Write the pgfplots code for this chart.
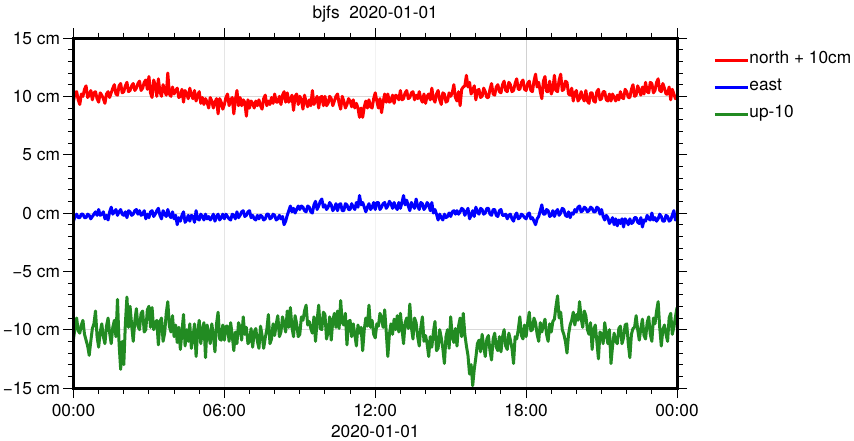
\documentclass[border=0pt]{standalone}
\usepackage{fontspec}
\setmainfont{TeX Gyre Heros}
\usepackage{pgfplots}
\usepackage{pgfplotstable}
\pgfplotsset{compat=1.18}
\definecolor{ugreen}{RGB}{34,139,34}
\pgfplotstableread{
t n e u
0 9.6 -0.7 -10.8
0.0625 10.3 -0.3 -9.8
0.125 10.4 -0.1 -9.0
0.1875 9.7 -0.4 -10.1
0.25 9.3 -0.4 -10.3
0.3125 10.2 -0.1 -9.6
0.375 10.0 -0.1 -9.2
0.4375 10.6 -0.4 -10.4
0.5 10.9 -0.4 -10.9
0.5625 9.9 -0.1 -11.4
0.625 10.1 -0.2 -12.2
0.6875 10.5 -0.5 -11.0
0.75 9.7 -0.3 -9.9
0.8125 10.3 -0.1 -9.5
0.875 10.4 0.1 -8.4
0.9375 9.8 -0.2 -10.6
1 9.5 0.3 -11.5
1.0625 10.3 -0.2 -10.2
1.125 10.1 -0.1 -9.5
1.1875 9.8 0.1 -10.6
1.25 9.4 -0.5 -11.2
1.3125 10.2 -0.2 -9.7
1.375 10.4 -0.6 -9.0
1.4375 9.9 0.1 -10.3
1.5 10.3 0.5 -11.2
1.5625 10.7 -0.1 -9.8
1.625 11.0 0.1 -9.2
1.6875 10.2 0.3 -10.6
1.75 10.1 -0.2 -7.4
1.8125 10.9 0.1 -11.2
1.875 11.1 0.3 -13.4
1.9375 10.3 -0.1 -11.0
2 10.4 -0.2 -13.0
2.0625 10.9 0.1 -9.5
2.125 11.2 -0.4 -7.2
2.1875 10.4 0.2 -9.8
2.25 10.5 0.1 -8.0
2.3125 10.9 -0.2 -9.6
2.375 11.1 -0.1 -11.0
2.4375 10.5 0.2 -9.3
2.5 10.7 0.3 -8.2
2.5625 11.1 -0.1 -9.7
2.625 11.3 0.2 -10.0
2.6875 10.5 -0.2 -8.6
2.75 10.7 -0.1 -8.4
2.8125 11.2 0.2 -10.2
2.875 11.4 -0.5 -10.0
2.9375 10.6 -0.1 -8.3
3 11.7 -0.4 -8.0
3.0625 10.3 0.1 -9.8
3.125 9.9 0.2 -8.1
3.1875 11.4 -0.3 -10.0
3.25 11.0 -0.1 -9.5
3.3125 10.0 0.2 -9.2
3.375 11.5 0.4 -11.3
3.4375 10.4 -0.2 -9.3
3.5 10.0 -0.5 -9.0
3.5625 11.0 0.2 -11.0
3.625 10.5 -0.1 -10.3
3.6875 10.1 -0.3 -8.6
3.75 12.0 0.3 -7.6
3.8125 10.2 -0.2 -9.7
3.875 10.0 -0.4 -10.2
3.9375 10.8 0.1 -8.8
4 10.2 -0.5 -10.6
4.0625 10.5 -0.2 -9.6
4.125 10.7 -1.0 -11.1
4.1875 9.9 -0.4 -9.8
4.25 10.0 -0.7 -11.7
4.3125 10.6 -0.2 -10.2
4.375 9.5 0.1 -8.7
4.4375 10.5 -0.8 -11.4
4.5 10.2 -0.6 -10.0
4.5625 9.8 -0.2 -11.0
4.625 10.7 -0.7 -9.5
4.6875 10.1 -0.2 -11.6
4.75 9.8 -0.3 -10.7
4.8125 10.5 -0.8 -9.5
4.875 9.6 0.2 -12.3
4.9375 10.1 -0.5 -10.2
5 10.4 -0.6 -9.2
5.0625 9.4 -0.1 -11.2
5.125 9.9 -0.3 -10.0
5.1875 9.3 -0.6 -9.4
5.25 9.8 -0.1 -12.4
5.3125 9.5 -0.5 -9.6
5.375 9.0 -0.3 -10.3
5.4375 9.9 -0.6 -11.2
5.5 9.6 -0.4 -9.5
5.5625 9.0 -0.1 -10.5
5.625 9.5 -0.7 -11.9
5.6875 9.8 -0.3 -9.5
5.75 8.5 -0.1 -8.5
5.8125 9.8 -0.6 -10.8
5.875 9.5 -0.4 -10.9
5.9375 8.9 -0.1 -9.6
6 9.3 -0.5 -10.9
6.0625 9.9 -0.1 -9.7
6.125 10.2 -0.3 -9.7
6.1875 9.2 -0.5 -11.0
6.25 9.7 -0.6 -9.4
6.3125 9.9 -0.1 -10.5
6.375 8.5 -0.2 -11.8
6.4375 9.7 -0.5 -10.2
6.5 10.5 0.1 -11.2
6.5625 9.2 -0.4 -9.4
6.625 9.9 -0.2 -9.8
6.6875 9.2 0.1 -10.9
6.75 9.7 0.2 -8.9
6.8125 9.5 -0.3 -10.4
6.875 8.3 -0.2 -9.8
6.9375 9.7 0.1 -11.2
7 9.0 0.2 -11.0
7.0625 9.6 -0.4 -9.9
7.125 9.4 -0.2 -11.5
7.1875 9.0 -0.5 -10.2
7.25 9.6 -0.6 -9.9
7.3125 9.2 -0.2 -11.0
7.375 9.7 -0.5 -11.6
7.4375 9.2 -0.2 -9.7
7.5 8.9 -0.3 -10.5
7.5625 9.8 -0.6 -11.6
7.625 10.1 -0.5 -10.7
7.6875 9.2 -0.1 -10.0
7.75 9.6 -0.1 -8.7
7.8125 9.3 -0.5 -11.2
7.875 9.9 -0.4 -10.8
7.9375 9.4 -0.1 -9.5
8 10.2 -0.2 -10.5
8.0625 9.5 -0.6 -9.5
8.125 9.5 -0.5 -8.8
8.1875 10.0 -0.2 -10.6
8.25 9.3 -0.5 -10.2
8.3125 10.1 -0.3 -8.9
8.375 10.4 -1.0 -9.5
8.4375 9.5 -0.7 -10.2
8.5 10.3 -0.2 -8.4
8.5625 9.5 0.2 -9.8
8.625 9.7 0.6 -8.1
8.6875 10.1 0.1 -9.8
8.75 8.8 0.4 -10.6
8.8125 10.0 0.0 -8.8
8.875 10.2 0.3 -9.5
8.9375 9.3 0.6 -10.6
9 10.0 0.3 -10.4
9.0625 9.7 0.6 -8.9
9.125 8.9 0.5 -9.2
9.1875 10.1 0.2 -8.4
9.25 9.5 0.1 -7.9
9.3125 9.1 0.6 -9.6
9.375 9.7 0.5 -9.3
9.4375 9.2 0.1 -9.9
9.5 10.5 0.0 -10.3
9.5625 9.3 0.7 -8.9
9.625 9.6 1.0 -11.0
9.6875 10.0 0.3 -9.2
9.75 9.0 0.6 -7.9
9.8125 9.9 1.0 -9.9
9.875 10.0 1.2 -10.0
9.9375 9.2 0.5 -8.5
10 10.0 0.7 -8.7
10.0625 9.2 0.3 -10.8
10.125 9.4 0.5 -10.2
10.1875 10.0 0.9 -8.9
10.25 9.8 0.7 -10.9
10.3125 9.2 0.2 -9.2
10.375 9.6 0.4 -8.6
10.4375 10.0 0.8 -9.8
10.5 10.2 0.2 -8.4
10.5625 9.4 0.7 -9.9
10.625 8.9 0.8 -7.5
10.6875 10.0 0.2 -9.4
10.75 9.6 0.2 -9.6
10.8125 9.0 0.8 -8.6
10.875 9.3 0.7 -11.3
10.9375 9.8 0.3 -9.3
11 9.6 0.3 -9.2
11.0625 9.1 0.8 -10.6
11.125 9.7 0.5 -9.5
11.1875 9.0 0.3 -10.4
11.25 9.4 0.9 -11.4
11.3125 9.0 0.5 -9.6
11.375 8.2 1.5 -10.3
11.4375 9.0 0.7 -9.8
11.5 8.2 0.9 -11.8
11.5625 9.1 0.5 -10.0
11.625 9.6 0.1 -9.0
11.6875 9.0 0.5 -9.7
11.75 9.7 0.8 -7.9
11.8125 9.1 0.3 -9.8
11.875 9.0 0.5 -9.2
11.9375 9.8 0.9 -10.4
12 10.3 0.3 -10.7
12.0625 9.6 0.9 -9.5
12.125 9.0 0.9 -9.7
12.1875 9.8 0.3 -8.6
12.25 8.6 0.5 -9.0
12.3125 9.5 0.8 -9.8
12.375 10.2 0.9 -8.3
12.4375 9.5 0.4 -10.2
12.5 10.2 0.6 -12.3
12.5625 9.5 1.0 -10.4
12.625 9.6 0.8 -9.5
12.6875 10.1 0.4 -10.4
12.75 9.4 0.9 -9.1
12.8125 10.1 0.5 -10.0
12.875 10.0 0.3 -8.8
12.9375 9.7 0.9 -10.2
13 10.5 0.4 -8.6
13.0625 9.7 0.9 -9.9
13.125 9.8 1.5 -11.2
13.1875 10.3 0.7 -9.4
13.25 10.5 1.1 -9.0
13.3125 9.8 0.6 -9.9
13.375 9.9 0.2 -7.8
13.4375 10.3 0.9 -9.8
13.5 10.4 0.6 -10.8
13.5625 9.7 0.4 -9.0
13.625 10.1 1.2 -9.4
13.6875 9.8 0.6 -10.6
13.75 10.4 0.3 -11.4
13.8125 9.8 0.9 -9.8
13.875 9.5 0.8 -8.9
13.9375 10.2 0.3 -11.0
14 9.4 0.5 -10.5
14.0625 10.0 0.9 -11.2
14.125 10.2 0.7 -12.3
14.1875 9.7 0.2 -10.6
14.25 10.7 0.9 -11.5
14.3125 9.8 0.0 -10.2
14.375 9.5 0.3 -9.3
14.4375 10.2 -0.1 -11.8
14.5 10.5 -0.6 -11.6
14.5625 9.7 -0.1 -10.0
14.625 9.3 -0.4 -10.7
14.6875 10.3 -0.6 -11.6
14.75 10.2 -0.1 -12.9
14.8125 9.5 -0.4 -10.6
14.875 9.6 -0.3 -10.0
14.9375 10.3 0.0 -11.6
15 10.0 -0.3 -8.9
15.0625 10.3 0.1 -10.6
15.125 11.0 0.2 -11.1
15.1875 9.9 -0.1 -9.9
15.25 9.6 0.2 -11.4
15.3125 10.4 -0.1 -9.7
15.375 9.2 0.1 -9.0
15.4375 10.6 0.4 -10.6
15.5 10.8 0.3 -8.6
15.5625 10.9 -0.2 -10.4
15.625 11.8 0.1 -11.4
15.6875 10.8 0.4 -12.2
15.75 11.2 -0.5 -13.8
15.8125 10.2 -0.2 -13.0
15.875 10.5 0.2 -14.8
15.9375 10.9 -0.3 -13.4
16 9.7 0.5 -12.4
16.0625 10.5 0.1 -11.2
16.125 10.6 -0.1 -10.9
16.1875 9.9 0.4 -11.9
16.25 10.0 0.3 -10.4
16.3125 10.7 -0.1 -11.4
16.375 10.4 0.0 -12.3
16.4375 9.9 0.4 -10.8
16.5 9.9 0.4 -10.5
16.5625 10.6 -0.1 -11.8
16.625 11.1 -0.2 -12.6
16.6875 10.2 0.3 -10.8
16.75 10.1 0.3 -10.3
16.8125 10.8 -0.2 -11.5
16.875 11.0 -0.3 -11.8
16.9375 10.4 0.2 -10.6
17 10.3 0.3 -11.9
17.0625 11.0 -0.2 -10.6
17.125 11.3 -0.2 -10.0
17.1875 10.5 -0.1 -11.4
17.25 10.4 -0.5 -11.7
17.3125 11.2 -0.2 -10.3
17.375 11.0 -0.1 -10.9
17.4375 10.4 -0.5 -11.6
17.5 10.5 -0.7 -12.9
17.5625 11.1 -0.2 -10.6
17.625 11.5 0.0 -10.8
17.6875 10.6 -0.5 -10.0
17.75 10.6 -0.4 -8.9
17.8125 11.2 -0.1 -10.5
17.875 11.4 -0.2 -10.8
17.9375 10.6 -0.4 -9.6
18 10.5 -0.5 -10.6
18.0625 11.1 -0.1 -9.4
18.125 11.3 0.0 -8.5
18.1875 10.5 -0.5 -10.1
18.25 10.4 -0.4 -10.0
18.3125 11.3 -0.7 -9.0
18.375 11.9 -1.0 -9.4
18.4375 10.8 -0.5 -10.4
18.5 11.2 -0.3 -11.0
18.5625 10.4 0.2 -9.4
18.625 9.8 0.7 -10.2
18.6875 11.3 -0.1 -9.6
18.75 11.7 -0.1 -9.1
18.8125 10.4 0.3 -10.4
18.875 10.4 0.2 -11.0
18.9375 11.3 -0.3 -9.5
19 10.2 -0.2 -10.2
19.0625 10.6 0.2 -9.3
19.125 11.8 -0.3 -9.1
19.1875 10.5 0.1 -8.0
19.25 10.4 0.3 -7.1
19.3125 11.4 -0.2 -9.0
19.375 11.9 0.0 -8.5
19.4375 10.5 0.4 -10.0
19.5 10.6 0.3 -10.4
19.5625 11.3 -0.2 -11.0
19.625 11.2 -0.3 -12.0
19.6875 10.2 0.1 -10.4
19.75 10.1 -0.4 -9.6
19.8125 10.7 0.0 -9.2
19.875 9.6 -0.1 -8.5
19.9375 10.3 0.3 -9.6
20 10.5 0.1 -8.7
20.0625 9.6 0.5 -9.2
20.125 9.8 0.6 -7.6
20.1875 10.4 0.1 -9.0
20.25 9.9 0.2 -9.8
20.3125 9.6 0.5 -8.4
20.375 10.5 0.4 -8.8
20.4375 9.6 0.1 -10.0
20.5 9.4 0.2 -10.4
20.5625 10.3 0.5 -9.4
20.625 10.3 0.4 -11.7
20.6875 9.6 0.1 -10.0
20.75 9.5 0.1 -9.6
20.8125 10.4 0.5 -11.0
20.875 10.6 0.4 -12.5
20.9375 9.7 -0.1 -10.2
21 9.8 0.3 -10.4
21.0625 10.4 -0.3 -11.2
21.125 10.4 -0.6 -9.4
21.1875 9.7 -0.2 -10.4
21.25 9.6 -0.4 -11.2
21.3125 10.2 -0.9 -10.0
21.375 9.6 -0.7 -12.9
21.4375 10.2 -0.4 -11.4
21.5 9.9 -1.0 -10.3
21.5625 9.6 -0.5 -11.0
21.625 10.1 -1.1 -11.2
21.6875 9.7 -0.6 -9.9
21.75 10.4 -0.9 -9.7
21.8125 9.9 -0.5 -11.2
21.875 9.8 -1.2 -10.7
21.9375 10.6 -0.5 -9.6
22 10.4 -0.7 -9.5
22.0625 9.9 -1.0 -11.2
22.125 9.9 -0.5 -12.4
22.1875 10.6 -0.9 -10.4
22.25 11.0 -0.8 -9.9
22.3125 10.0 -0.4 -9.8
22.375 10.1 -0.4 -8.8
22.4375 10.9 -0.8 -10.0
22.5 10.5 -0.9 -10.9
22.5625 10.1 -0.4 -9.9
22.625 10.8 -1.2 -9.1
22.6875 10.2 -0.6 -10.5
22.75 11.2 -0.7 -10.8
22.8125 10.4 -0.2 -9.4
22.875 10.3 -0.5 -8.9
22.9375 11.2 -0.6 -10.4
23 11.1 0.0 -11.0
23.0625 10.3 -0.6 -9.0
23.125 10.5 -0.4 -9.5
23.1875 11.2 -0.7 -8.4
23.25 11.5 -0.5 -7.6
23.3125 10.5 -0.1 -9.8
23.375 10.4 -0.3 -11.4
23.4375 11.1 -0.7 -10.0
23.5 10.7 -0.7 -9.6
23.5625 10.2 -0.2 -10.4
23.625 10.2 -0.3 -11.0
23.6875 10.8 -0.7 -9.0
23.75 9.7 -0.6 -8.6
23.8125 10.6 -0.2 -10.4
23.875 10.2 0.2 -9.8
23.9375 9.8 -0.6 -8.9
24 9.9 -0.3 -8.1
}\series
\begin{document}
\begin{tikzpicture}[x=1pt,y=1pt]
\path[use as bounding box] (0,0) rectangle (854,440);
\begin{axis}[
  at={(73.5pt,52pt)}, anchor=south west,
  scale only axis, width=603.5pt, height=350pt,
  xmin=0, xmax=24, ymin=-15, ymax=15,
  xtick={0,6,12,18,24},
  xticklabels={00:00,06:00,12:00,18:00,00:00},
  minor xtick={1,2,3,4,5,7,8,9,10,11,13,14,15,16,17,19,20,21,22,23},
  ytick={-15,-10,-5,0,5,10,15},
  yticklabels={−15 cm,−10 cm,−5 cm,0 cm,5 cm,10 cm,15 cm},
  minor ytick={-14,-13,-12,-11,-9,-8,-7,-6,-4,-3,-2,-1,1,2,3,4,6,7,8,9,11,12,13,14},
  tick align=outside,
  major tick length=10pt, minor tick length=5.5pt,
  tick style={black,line width=1pt},
  axis line style={black,line width=3pt},
  axis on top,
  ticklabel style={font=\fontsize{17.3}{20}\selectfont},
  xticklabel style={yshift=-3pt},
  title={bjfs\ \ 2020-01-01},
  title style={font=\fontsize{17.3}{20}\selectfont,at={(0.5,1)},anchor=base,yshift=14pt},
  xlabel={2020-01-01},
  xlabel style={font=\fontsize{17.3}{20}\selectfont,at={(0.5,0)},anchor=base,yshift=-49pt},
  legend style={at={(1.0,0.965)},xshift=36.5pt,anchor=north west,draw=none,fill=none,
    font=\fontsize{17.3}{20}\selectfont,row sep=0.5pt,inner sep=0pt,outer sep=0pt,
    nodes={inner sep=0pt,text height=13pt,text depth=13.5pt,anchor=base west}},
  legend cell align=left,
  legend image code/.code={\draw[#1,line width=2.8pt] (0pt,3pt) -- (25pt,3pt);\path (25pt,3pt) -- (33pt,3pt);},
  every axis plot post/.append style={line join=round},
]
\addplot[forget plot,color=black!10,line width=1pt] coordinates {(6,-15)(6,15)};
\addplot[forget plot,color=black!5,line width=1pt] coordinates {(12,-15)(12,15)};
\addplot[forget plot,color=black!18,line width=1pt] coordinates {(18,-15)(18,15)};
\addplot[forget plot,color=black!15,line width=1pt] coordinates {(0,10)(24,10)};
\addplot[forget plot,color=black!15,line width=1pt] coordinates {(0,0)(24,0)};
\addplot[forget plot,color=black!15,line width=1pt] coordinates {(0,-10)(24,-10)};
\addplot[red,line width=3pt,mark=none] table[x=t,y=n] {\series};
\addplot[blue,line width=3pt,mark=none] table[x=t,y=e] {\series};
\addplot[ugreen,line width=3pt,mark=none] table[x=t,y=u] {\series};
\legend{north + 10cm,east,up-10}
\end{axis}
\end{tikzpicture}
\end{document}
